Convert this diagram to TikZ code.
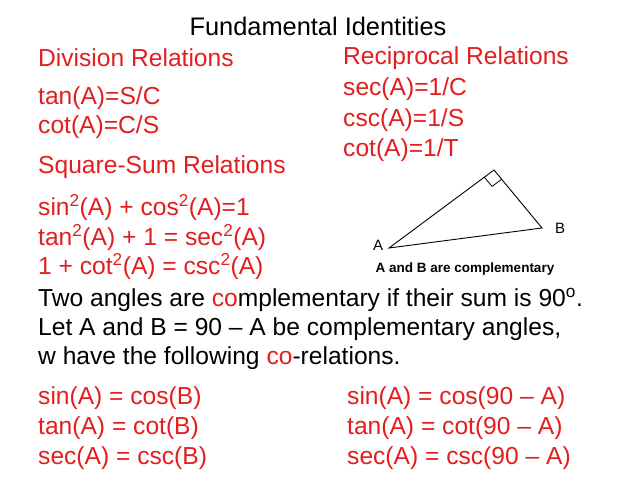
\documentclass[tikz,border=0pt]{standalone}
\usepackage{fontspec}
\usetikzlibrary{calc}
\setmainfont{Liberation Sans}
\definecolor{rd}{RGB}{226,30,30}
\begin{document}
\begin{tikzpicture}[x=1pt,y=-1pt,
  t/.style={anchor=west,inner sep=0pt,font=\fontsize{24.6}{28}\selectfont},
  r/.style={t,text=rd}]
\useasboundingbox (0,0) rectangle (638,478);
\node[t,anchor=center,font=\fontsize{25.4}{29}\selectfont] (title) at (318,26) {Fundamental Identities};
\node[r] (dr) at (38,58) {Division Relations};
\node[r] (d1) at (38,98) {tan(A)=S/C};
\node[r] (d2) at (38,127) {cot(A)=C/S};
\node[r] (ss) at (38,167) {Square-Sum Relations};
\node[r] (s1) at (38,208) {sin\textsuperscript{2}(A) + cos\textsuperscript{2}(A)=1};
\node[r] (s2) at (38,238) {tan\textsuperscript{2}(A) + 1 = sec\textsuperscript{2}(A)};
\node[r] (s3) at (38,267) {1 + cot\textsuperscript{2}(A) = csc\textsuperscript{2}(A)};
\node[r] (rr) at (343,58) {Reciprocal Relations};
\node[r] (r1) at (343,89) {sec(A)=1/C};
\node[r] (r2) at (343,120) {csc(A)=1/S};
\node[r] (r3) at (343,150) {cot(A)=1/T};
\node[t] (p1) at (38,300) {Two angles are \textcolor{rd}{co}mplementary if their sum is 90\textsuperscript{o}.};
\node[t] (p2) at (38,329) {Let A and B = 90 -- A be complementary angles,};
\node[t] (p3) at (38,358) {w have the following \textcolor{rd}{co}-relations.};
\node[r] (c1) at (38,398) {sin(A) = cos(B)};
\node[r] (c2) at (38,428) {tan(A) = cot(B)};
\node[r] (c3) at (38,458) {sec(A) = csc(B)};
\node[r] (e1) at (347,398) {sin(A) = cos(90 -- A)};
\node[r] (e2) at (347,428) {tan(A) = cot(90 -- A)};
\node[r] (e3) at (347,458) {sec(A) = csc(90 -- A)};
\coordinate (A) at (389,248);
\coordinate (C) at (494,170);
\coordinate (B) at (542,228);
\draw[line width=0.9pt] (A) -- (C) -- (B) -- cycle;
\draw[line width=0.8pt] ($(C)!12pt!(A)$) -- ($(C)!12pt!(A)+(C)!12pt!(B)-(C)$) -- ($(C)!12pt!(B)$);
\node[inner sep=0pt,font=\fontsize{15}{17}\selectfont] (la) at (378,245) {A};
\node[inner sep=0pt,font=\fontsize{15}{17}\selectfont] (lb) at (560,228) {B};
\node[inner sep=0pt,font=\bfseries\fontsize{13.5}{16}\selectfont] (cap) at (465,269) {A and B are complementary};
\end{tikzpicture}
\end{document}
